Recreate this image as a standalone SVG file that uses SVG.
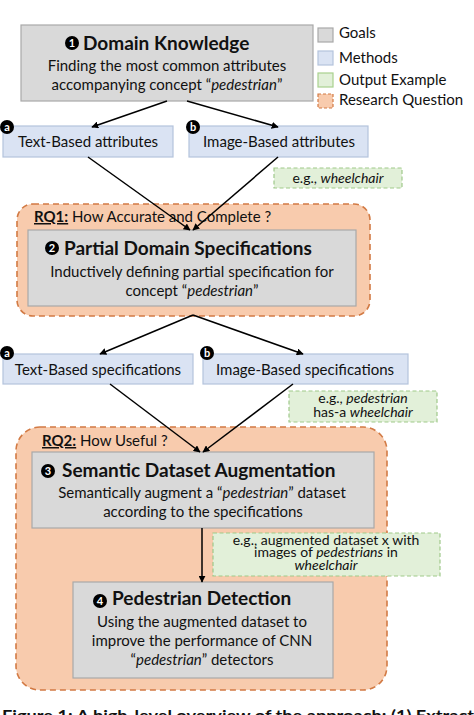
<svg xmlns="http://www.w3.org/2000/svg" width="474" height="715" viewBox="0 0 474 715">
<defs>
<style>
text{font-family:Lato,"Open Sans","Liberation Sans",sans-serif;fill:#111}
.goal{fill:#d9d9d9;stroke:#a9a9a9;stroke-width:1.2}
.meth{fill:#dae3f3;stroke:#b4c3dc;stroke-width:1.2}
.out{fill:#e2f0d9;stroke:#9fc98a;stroke-width:1.2;stroke-dasharray:4 2.5}
.rq{fill:#f8cbad;stroke:#d27a44;stroke-width:1.6;stroke-dasharray:6 4}
.title{font-weight:bold;font-size:19px;text-anchor:start}
.body{font-size:15px;text-anchor:middle}
.mtx{font-size:15px;text-anchor:middle}
.ex{font-size:14px;text-anchor:middle}
.leg{font-size:15px}
.num{font-weight:bold;font-size:11px;fill:#fff;text-anchor:middle}
.conn{stroke:#000;stroke-width:1.5;fill:none;marker-end:url(#ah)}
</style>
<marker id="ah" viewBox="0 0 10 10" refX="9" refY="5" markerWidth="7" markerHeight="7" orient="auto" markerUnits="userSpaceOnUse">
<path d="M0,0 L10,5 L0,10 z" fill="#000"/>
</marker>
</defs>
<rect width="474" height="715" fill="#fff"/>

<g id="legend">
<rect x="318" y="28" width="15" height="14" class="goal"/>
<text x="339" y="38" class="leg">Goals</text>
<rect x="318" y="51" width="15" height="14" class="meth"/>
<text x="339" y="63" class="leg">Methods</text>
<rect x="318" y="73" width="15" height="14" fill="#e2f0d9" stroke="#a9d18e" stroke-width="1.2"/>
<text x="339" y="85" class="leg">Output Example</text>
<rect x="318" y="94" width="15" height="14" fill="#f8cbad" stroke="#d27a44" stroke-width="1.2" stroke-dasharray="3 2"/>
<text x="339" y="105" class="leg">Research Question</text>
</g>

<g id="rq1">
<rect x="17" y="204" width="353" height="112" rx="16" class="rq"/>
<text x="34" y="222" font-size="15px"><tspan font-weight="bold" text-decoration="underline">RQ1:</tspan> How Accurate and Complete ?</text>
</g>

<g id="rq2">
<rect x="16" y="427" width="371" height="263" rx="24" class="rq"/>
<text x="42" y="446" font-size="15px"><tspan font-weight="bold" text-decoration="underline">RQ2:</tspan> How Useful ?</text>
</g>

<g id="n1">
<rect x="21" y="25" width="292" height="76" class="goal"/>
<circle cx="72" cy="43" r="7" fill="#000"/>
<text x="72" y="47" class="num">1</text>
<text x="83" y="50" class="title">Domain Knowledge</text>
<text x="167" y="71" class="body">Finding the most common attributes</text>
<text x="167" y="90" class="body">accompanying concept “<tspan font-style="italic">pedestrian</tspan>”</text>
</g>

<g id="n1a">
<rect x="3" y="126" width="170" height="31" class="meth"/>
<circle cx="7" cy="127" r="7" fill="#000"/>
<text x="7" y="131" class="num">a</text>
<text x="88" y="147" class="mtx">Text-Based attributes</text>
</g>

<g id="n1b">
<rect x="189" y="126" width="179" height="31" class="meth"/>
<circle cx="193" cy="127" r="7" fill="#000"/>
<text x="193" y="131" class="num">b</text>
<text x="279" y="147" class="mtx">Image-Based attributes</text>
</g>

<g id="ex1">
<rect x="274" y="168" width="128" height="20" class="out"/>
<text x="338" y="183" class="ex" font-size="15.5px">e.g., <tspan font-style="italic">wheelchair</tspan></text>
</g>

<g id="n2">
<rect x="28" y="230" width="328" height="76" class="goal"/>
<circle cx="52" cy="248" r="7" fill="#000"/>
<text x="52" y="252" class="num">2</text>
<text x="64" y="255" class="title">Partial Domain Specifications</text>
<text x="192" y="277" class="body">Inductively defining partial specification for</text>
<text x="192" y="296" class="body">concept “<tspan font-style="italic">pedestrian</tspan>”</text>
</g>

<g id="n2a">
<rect x="3" y="354" width="190" height="30" class="meth"/>
<circle cx="7" cy="353" r="7" fill="#000"/>
<text x="7" y="357" class="num">a</text>
<text x="98" y="375" class="mtx">Text-Based specifications</text>
</g>

<g id="n2b">
<rect x="203" y="354" width="205" height="30" class="meth"/>
<circle cx="207" cy="353" r="7" fill="#000"/>
<text x="207" y="357" class="num">b</text>
<text x="305" y="375" class="mtx">Image-Based specifications</text>
</g>

<g id="ex2">
<rect x="289" y="391" width="148" height="31" class="out"/>
<text x="363" y="403" class="ex" font-size="14.5px">e.g., <tspan font-style="italic">pedestrian</tspan></text>
<text x="363" y="417" class="ex" font-size="14.5px">has-a  <tspan font-style="italic">wheelchair</tspan></text>
</g>

<g id="n3">
<rect x="32" y="452" width="342" height="76" class="goal"/>
<circle cx="48" cy="471" r="7" fill="#000"/>
<text x="48" y="475" class="num">3</text>
<text x="62" y="477" class="title">Semantic Dataset Augmentation</text>
<text x="202" y="498" class="body">Semantically augment a “<tspan font-style="italic">pedestrian</tspan>” dataset</text>
<text x="203" y="517" class="body">according to the specifications</text>
</g>

<g id="ex3">
<rect x="213" y="533" width="227" height="43" class="out"/>
<text x="326" y="544.5" class="ex">e.g., augmented dataset x with</text>
<text x="326" y="557" class="ex">images of <tspan font-style="italic">pedestrians</tspan> in</text>
<text x="326" y="570" class="ex" font-style="italic">wheelchair</text>
</g>

<g id="n4">
<rect x="73" y="582" width="260" height="96" class="goal"/>
<circle cx="100" cy="601" r="7" fill="#000"/>
<text x="100" y="605" class="num">4</text>
<text x="112" y="605" class="title">Pedestrian Detection</text>
<text x="202" y="627" class="body">Using the augmented dataset to</text>
<text x="202" y="646" class="body">improve the performance of  CNN</text>
<text x="202" y="665" class="body">“<tspan font-style="italic">pedestrian</tspan>” detectors</text>
</g>

<g id="connectors">
<line x1="167" y1="101" x2="92" y2="127" class="conn"/>
<line x1="187" y1="101" x2="278" y2="127" class="conn"/>
<line x1="88" y1="157" x2="190" y2="230" class="conn"/>
<line x1="278" y1="157" x2="193" y2="230" class="conn"/>
<line x1="193" y1="315" x2="100" y2="354" class="conn"/>
<line x1="193" y1="315" x2="303" y2="354" class="conn"/>
<line x1="110" y1="384" x2="200" y2="452" class="conn"/>
<line x1="293" y1="384" x2="203" y2="452" class="conn"/>
<line x1="202" y1="528" x2="202" y2="582" class="conn"/>
</g>

<text x="2" y="721" font-family="'Liberation Serif',serif" font-weight="bold" font-size="16" textLength="472" lengthAdjust="spacingAndGlyphs">Figure 1: A high-level overview of the approach: (1) Extract</text>
</svg>
